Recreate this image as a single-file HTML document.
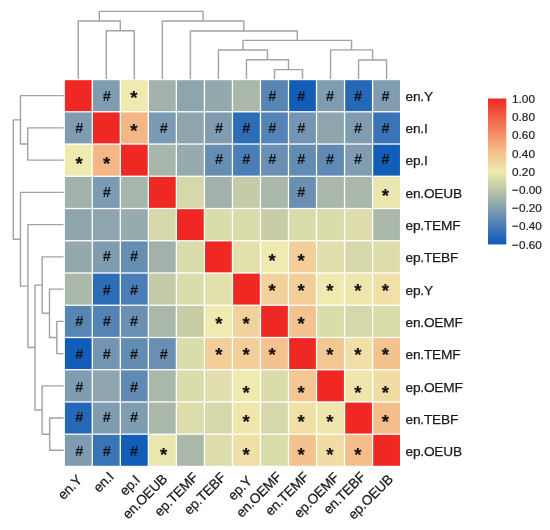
<!DOCTYPE html><html><head><meta charset="utf-8"><style>html,body{margin:0;padding:0;background:#fff;width:550px;height:530px;overflow:hidden}svg{display:block;filter:blur(0.3px)}text{font-family:"Liberation Sans",Arial,sans-serif}</style></head><body>
<svg width="550" height="530" viewBox="0 0 550 530">
<rect x="0" y="0" width="550" height="530" fill="#fff"/>
<g>
<rect x="64.90" y="80.20" width="26.73" height="30.94" fill="#f02824"/>
<rect x="92.93" y="80.20" width="26.73" height="30.94" fill="#7f9cb1"/>
<rect x="120.96" y="80.20" width="26.73" height="30.94" fill="#eeeab0"/>
<rect x="148.99" y="80.20" width="26.73" height="30.94" fill="#a2b2ab"/>
<rect x="177.02" y="80.20" width="26.73" height="30.94" fill="#8ea5ae"/>
<rect x="205.05" y="80.20" width="26.73" height="30.94" fill="#93a9ae"/>
<rect x="233.08" y="80.20" width="26.73" height="30.94" fill="#aab8aa"/>
<rect x="261.11" y="80.20" width="26.73" height="30.94" fill="#5785b4"/>
<rect x="289.14" y="80.20" width="26.73" height="30.94" fill="#125db8"/>
<rect x="317.17" y="80.20" width="26.73" height="30.94" fill="#7f9cb1"/>
<rect x="345.20" y="80.20" width="26.73" height="30.94" fill="#2468b7"/>
<rect x="373.23" y="80.20" width="26.73" height="30.94" fill="#7f9cb1"/>
<rect x="64.90" y="112.44" width="26.73" height="30.94" fill="#7f9cb1"/>
<rect x="92.93" y="112.44" width="26.73" height="30.94" fill="#f02824"/>
<rect x="120.96" y="112.44" width="26.73" height="30.94" fill="#f4b684"/>
<rect x="148.99" y="112.44" width="26.73" height="30.94" fill="#7c9ab1"/>
<rect x="177.02" y="112.44" width="26.73" height="30.94" fill="#8ea5ae"/>
<rect x="205.05" y="112.44" width="26.73" height="30.94" fill="#7f9cb1"/>
<rect x="233.08" y="112.44" width="26.73" height="30.94" fill="#2d6db7"/>
<rect x="261.11" y="112.44" width="26.73" height="30.94" fill="#5483b5"/>
<rect x="289.14" y="112.44" width="26.73" height="30.94" fill="#7394b2"/>
<rect x="317.17" y="112.44" width="26.73" height="30.94" fill="#8ea5ae"/>
<rect x="345.20" y="112.44" width="26.73" height="30.94" fill="#7f9cb1"/>
<rect x="373.23" y="112.44" width="26.73" height="30.94" fill="#3974b6"/>
<rect x="64.90" y="144.68" width="26.73" height="30.94" fill="#eeeab0"/>
<rect x="92.93" y="144.68" width="26.73" height="30.94" fill="#f4b684"/>
<rect x="120.96" y="144.68" width="26.73" height="30.94" fill="#f02824"/>
<rect x="148.99" y="144.68" width="26.73" height="30.94" fill="#a7b6aa"/>
<rect x="177.02" y="144.68" width="26.73" height="30.94" fill="#96abad"/>
<rect x="205.05" y="144.68" width="26.73" height="30.94" fill="#668eb3"/>
<rect x="233.08" y="144.68" width="26.73" height="30.94" fill="#4b7eb6"/>
<rect x="261.11" y="144.68" width="26.73" height="30.94" fill="#6a8fb3"/>
<rect x="289.14" y="144.68" width="26.73" height="30.94" fill="#638cb3"/>
<rect x="317.17" y="144.68" width="26.73" height="30.94" fill="#608ab4"/>
<rect x="345.20" y="144.68" width="26.73" height="30.94" fill="#7f9cb1"/>
<rect x="373.23" y="144.68" width="26.73" height="30.94" fill="#125db8"/>
<rect x="64.90" y="176.92" width="26.73" height="30.94" fill="#a2b2ab"/>
<rect x="92.93" y="176.92" width="26.73" height="30.94" fill="#7c9ab1"/>
<rect x="120.96" y="176.92" width="26.73" height="30.94" fill="#a7b6aa"/>
<rect x="148.99" y="176.92" width="26.73" height="30.94" fill="#f02824"/>
<rect x="177.02" y="176.92" width="26.73" height="30.94" fill="#d6d8ab"/>
<rect x="205.05" y="176.92" width="26.73" height="30.94" fill="#a2b2ab"/>
<rect x="233.08" y="176.92" width="26.73" height="30.94" fill="#c5cba8"/>
<rect x="261.11" y="176.92" width="26.73" height="30.94" fill="#aab8aa"/>
<rect x="289.14" y="176.92" width="26.73" height="30.94" fill="#6a8fb3"/>
<rect x="317.17" y="176.92" width="26.73" height="30.94" fill="#aab8aa"/>
<rect x="345.20" y="176.92" width="26.73" height="30.94" fill="#aab8aa"/>
<rect x="373.23" y="176.92" width="26.73" height="30.94" fill="#e9e6af"/>
<rect x="64.90" y="209.16" width="26.73" height="30.94" fill="#8ea5ae"/>
<rect x="92.93" y="209.16" width="26.73" height="30.94" fill="#8ea5ae"/>
<rect x="120.96" y="209.16" width="26.73" height="30.94" fill="#96abad"/>
<rect x="148.99" y="209.16" width="26.73" height="30.94" fill="#d6d8ab"/>
<rect x="177.02" y="209.16" width="26.73" height="30.94" fill="#f02824"/>
<rect x="205.05" y="209.16" width="26.73" height="30.94" fill="#dbdcac"/>
<rect x="233.08" y="209.16" width="26.73" height="30.94" fill="#dbdcac"/>
<rect x="261.11" y="209.16" width="26.73" height="30.94" fill="#c8cda8"/>
<rect x="289.14" y="209.16" width="26.73" height="30.94" fill="#dbdcac"/>
<rect x="317.17" y="209.16" width="26.73" height="30.94" fill="#dbdcac"/>
<rect x="345.20" y="209.16" width="26.73" height="30.94" fill="#ddddac"/>
<rect x="373.23" y="209.16" width="26.73" height="30.94" fill="#aab8aa"/>
<rect x="64.90" y="241.40" width="26.73" height="30.94" fill="#93a9ae"/>
<rect x="92.93" y="241.40" width="26.73" height="30.94" fill="#7f9cb1"/>
<rect x="120.96" y="241.40" width="26.73" height="30.94" fill="#668eb3"/>
<rect x="148.99" y="241.40" width="26.73" height="30.94" fill="#a2b2ab"/>
<rect x="177.02" y="241.40" width="26.73" height="30.94" fill="#dbdcac"/>
<rect x="205.05" y="241.40" width="26.73" height="30.94" fill="#f02824"/>
<rect x="233.08" y="241.40" width="26.73" height="30.94" fill="#e2e1ae"/>
<rect x="261.11" y="241.40" width="26.73" height="30.94" fill="#eeeab0"/>
<rect x="289.14" y="241.40" width="26.73" height="30.94" fill="#f3ce99"/>
<rect x="317.17" y="241.40" width="26.73" height="30.94" fill="#e0dfad"/>
<rect x="345.20" y="241.40" width="26.73" height="30.94" fill="#d6d8ab"/>
<rect x="373.23" y="241.40" width="26.73" height="30.94" fill="#ddddac"/>
<rect x="64.90" y="273.64" width="26.73" height="30.94" fill="#aab8aa"/>
<rect x="92.93" y="273.64" width="26.73" height="30.94" fill="#2d6db7"/>
<rect x="120.96" y="273.64" width="26.73" height="30.94" fill="#4b7eb6"/>
<rect x="148.99" y="273.64" width="26.73" height="30.94" fill="#c5cba8"/>
<rect x="177.02" y="273.64" width="26.73" height="30.94" fill="#dbdcac"/>
<rect x="205.05" y="273.64" width="26.73" height="30.94" fill="#e2e1ae"/>
<rect x="233.08" y="273.64" width="26.73" height="30.94" fill="#f02824"/>
<rect x="261.11" y="273.64" width="26.73" height="30.94" fill="#f2d29c"/>
<rect x="289.14" y="273.64" width="26.73" height="30.94" fill="#f3ce99"/>
<rect x="317.17" y="273.64" width="26.73" height="30.94" fill="#eeeab0"/>
<rect x="345.20" y="273.64" width="26.73" height="30.94" fill="#efe6ad"/>
<rect x="373.23" y="273.64" width="26.73" height="30.94" fill="#f0e0a8"/>
<rect x="64.90" y="305.88" width="26.73" height="30.94" fill="#5785b4"/>
<rect x="92.93" y="305.88" width="26.73" height="30.94" fill="#5483b5"/>
<rect x="120.96" y="305.88" width="26.73" height="30.94" fill="#6a8fb3"/>
<rect x="148.99" y="305.88" width="26.73" height="30.94" fill="#aab8aa"/>
<rect x="177.02" y="305.88" width="26.73" height="30.94" fill="#c8cda8"/>
<rect x="205.05" y="305.88" width="26.73" height="30.94" fill="#eeeab0"/>
<rect x="233.08" y="305.88" width="26.73" height="30.94" fill="#f2d29c"/>
<rect x="261.11" y="305.88" width="26.73" height="30.94" fill="#f02824"/>
<rect x="289.14" y="305.88" width="26.73" height="30.94" fill="#f4c28e"/>
<rect x="317.17" y="305.88" width="26.73" height="30.94" fill="#dbdcac"/>
<rect x="345.20" y="305.88" width="26.73" height="30.94" fill="#d6d8ab"/>
<rect x="373.23" y="305.88" width="26.73" height="30.94" fill="#dbdcac"/>
<rect x="64.90" y="338.12" width="26.73" height="30.94" fill="#125db8"/>
<rect x="92.93" y="338.12" width="26.73" height="30.94" fill="#7394b2"/>
<rect x="120.96" y="338.12" width="26.73" height="30.94" fill="#638cb3"/>
<rect x="148.99" y="338.12" width="26.73" height="30.94" fill="#6a8fb3"/>
<rect x="177.02" y="338.12" width="26.73" height="30.94" fill="#dbdcac"/>
<rect x="205.05" y="338.12" width="26.73" height="30.94" fill="#f3ce99"/>
<rect x="233.08" y="338.12" width="26.73" height="30.94" fill="#f3ce99"/>
<rect x="261.11" y="338.12" width="26.73" height="30.94" fill="#f4c28e"/>
<rect x="289.14" y="338.12" width="26.73" height="30.94" fill="#f02824"/>
<rect x="317.17" y="338.12" width="26.73" height="30.94" fill="#f4c692"/>
<rect x="345.20" y="338.12" width="26.73" height="30.94" fill="#f0e0a8"/>
<rect x="373.23" y="338.12" width="26.73" height="30.94" fill="#f4c28e"/>
<rect x="64.90" y="370.36" width="26.73" height="30.94" fill="#7f9cb1"/>
<rect x="92.93" y="370.36" width="26.73" height="30.94" fill="#8ea5ae"/>
<rect x="120.96" y="370.36" width="26.73" height="30.94" fill="#608ab4"/>
<rect x="148.99" y="370.36" width="26.73" height="30.94" fill="#aab8aa"/>
<rect x="177.02" y="370.36" width="26.73" height="30.94" fill="#dbdcac"/>
<rect x="205.05" y="370.36" width="26.73" height="30.94" fill="#e0dfad"/>
<rect x="233.08" y="370.36" width="26.73" height="30.94" fill="#eeeab0"/>
<rect x="261.11" y="370.36" width="26.73" height="30.94" fill="#dbdcac"/>
<rect x="289.14" y="370.36" width="26.73" height="30.94" fill="#f4c692"/>
<rect x="317.17" y="370.36" width="26.73" height="30.94" fill="#f02824"/>
<rect x="345.20" y="370.36" width="26.73" height="30.94" fill="#efe6ad"/>
<rect x="373.23" y="370.36" width="26.73" height="30.94" fill="#f1dca5"/>
<rect x="64.90" y="402.60" width="26.73" height="30.94" fill="#2468b7"/>
<rect x="92.93" y="402.60" width="26.73" height="30.94" fill="#7f9cb1"/>
<rect x="120.96" y="402.60" width="26.73" height="30.94" fill="#7f9cb1"/>
<rect x="148.99" y="402.60" width="26.73" height="30.94" fill="#aab8aa"/>
<rect x="177.02" y="402.60" width="26.73" height="30.94" fill="#ddddac"/>
<rect x="205.05" y="402.60" width="26.73" height="30.94" fill="#d6d8ab"/>
<rect x="233.08" y="402.60" width="26.73" height="30.94" fill="#efe6ad"/>
<rect x="261.11" y="402.60" width="26.73" height="30.94" fill="#d6d8ab"/>
<rect x="289.14" y="402.60" width="26.73" height="30.94" fill="#f0e0a8"/>
<rect x="317.17" y="402.60" width="26.73" height="30.94" fill="#efe6ad"/>
<rect x="345.20" y="402.60" width="26.73" height="30.94" fill="#f02824"/>
<rect x="373.23" y="402.60" width="26.73" height="30.94" fill="#f4bd8a"/>
<rect x="64.90" y="434.84" width="26.73" height="30.94" fill="#7f9cb1"/>
<rect x="92.93" y="434.84" width="26.73" height="30.94" fill="#3974b6"/>
<rect x="120.96" y="434.84" width="26.73" height="30.94" fill="#125db8"/>
<rect x="148.99" y="434.84" width="26.73" height="30.94" fill="#e9e6af"/>
<rect x="177.02" y="434.84" width="26.73" height="30.94" fill="#aab8aa"/>
<rect x="205.05" y="434.84" width="26.73" height="30.94" fill="#ddddac"/>
<rect x="233.08" y="434.84" width="26.73" height="30.94" fill="#f0e0a8"/>
<rect x="261.11" y="434.84" width="26.73" height="30.94" fill="#dbdcac"/>
<rect x="289.14" y="434.84" width="26.73" height="30.94" fill="#f4c28e"/>
<rect x="317.17" y="434.84" width="26.73" height="30.94" fill="#f1dca5"/>
<rect x="345.20" y="434.84" width="26.73" height="30.94" fill="#f4bd8a"/>
<rect x="373.23" y="434.84" width="26.73" height="30.94" fill="#f02824"/>
</g>
<g fill="#111" text-anchor="middle" font-weight="bold">
<text x="106.70" y="101.07" font-size="14.5">#</text>
<text x="133.93" y="103.57" font-size="18.5" stroke="#111" stroke-width="0.15" stroke-linejoin="round">*</text>
<text x="272.18" y="101.07" font-size="14.5">#</text>
<text x="301.20" y="101.07" font-size="14.5">#</text>
<text x="330.04" y="101.07" font-size="14.5">#</text>
<text x="358.06" y="101.07" font-size="14.5">#</text>
<text x="385.50" y="101.07" font-size="14.5">#</text>
<text x="79.27" y="133.41" font-size="14.5">#</text>
<text x="133.93" y="136.71" font-size="18.5" stroke="#111" stroke-width="0.15" stroke-linejoin="round">*</text>
<text x="163.76" y="133.41" font-size="14.5">#</text>
<text x="219.12" y="133.41" font-size="14.5">#</text>
<text x="246.34" y="133.41" font-size="14.5">#</text>
<text x="272.18" y="133.41" font-size="14.5">#</text>
<text x="301.20" y="133.41" font-size="14.5">#</text>
<text x="358.06" y="133.41" font-size="14.5">#</text>
<text x="385.50" y="133.41" font-size="14.5">#</text>
<text x="79.06" y="170.45" font-size="18.5" stroke="#111" stroke-width="0.15" stroke-linejoin="round">*</text>
<text x="106.50" y="170.45" font-size="18.5" stroke="#111" stroke-width="0.15" stroke-linejoin="round">*</text>
<text x="219.12" y="164.35" font-size="14.5">#</text>
<text x="246.34" y="164.35" font-size="14.5">#</text>
<text x="272.18" y="164.35" font-size="14.5">#</text>
<text x="301.20" y="164.35" font-size="14.5">#</text>
<text x="330.04" y="164.35" font-size="14.5">#</text>
<text x="358.06" y="164.35" font-size="14.5">#</text>
<text x="385.50" y="164.35" font-size="14.5">#</text>
<text x="106.70" y="197.19" font-size="14.5">#</text>
<text x="301.20" y="197.19" font-size="14.5">#</text>
<text x="385.30" y="201.99" font-size="18.5" stroke="#111" stroke-width="0.15" stroke-linejoin="round">*</text>
<text x="106.70" y="261.17" font-size="14.5">#</text>
<text x="134.12" y="261.17" font-size="14.5">#</text>
<text x="271.98" y="266.57" font-size="18.5" stroke="#111" stroke-width="0.15" stroke-linejoin="round">*</text>
<text x="301.00" y="266.57" font-size="18.5" stroke="#111" stroke-width="0.15" stroke-linejoin="round">*</text>
<text x="106.70" y="295.21" font-size="14.5">#</text>
<text x="134.12" y="295.21" font-size="14.5">#</text>
<text x="271.98" y="297.31" font-size="18.5" stroke="#111" stroke-width="0.15" stroke-linejoin="round">*</text>
<text x="301.00" y="297.31" font-size="18.5" stroke="#111" stroke-width="0.15" stroke-linejoin="round">*</text>
<text x="329.84" y="297.31" font-size="18.5" stroke="#111" stroke-width="0.15" stroke-linejoin="round">*</text>
<text x="357.87" y="297.31" font-size="18.5" stroke="#111" stroke-width="0.15" stroke-linejoin="round">*</text>
<text x="385.30" y="297.31" font-size="18.5" stroke="#111" stroke-width="0.15" stroke-linejoin="round">*</text>
<text x="79.27" y="326.15" font-size="14.5">#</text>
<text x="106.70" y="326.15" font-size="14.5">#</text>
<text x="134.12" y="326.15" font-size="14.5">#</text>
<text x="218.92" y="330.15" font-size="18.5" stroke="#111" stroke-width="0.15" stroke-linejoin="round">*</text>
<text x="246.15" y="330.15" font-size="18.5" stroke="#111" stroke-width="0.15" stroke-linejoin="round">*</text>
<text x="301.00" y="330.15" font-size="18.5" stroke="#111" stroke-width="0.15" stroke-linejoin="round">*</text>
<text x="79.27" y="358.89" font-size="14.5">#</text>
<text x="106.70" y="358.89" font-size="14.5">#</text>
<text x="134.12" y="358.89" font-size="14.5">#</text>
<text x="163.76" y="358.89" font-size="14.5">#</text>
<text x="218.92" y="361.49" font-size="18.5" stroke="#111" stroke-width="0.15" stroke-linejoin="round">*</text>
<text x="246.15" y="361.49" font-size="18.5" stroke="#111" stroke-width="0.15" stroke-linejoin="round">*</text>
<text x="271.98" y="361.49" font-size="18.5" stroke="#111" stroke-width="0.15" stroke-linejoin="round">*</text>
<text x="329.84" y="361.49" font-size="18.5" stroke="#111" stroke-width="0.15" stroke-linejoin="round">*</text>
<text x="357.87" y="361.49" font-size="18.5" stroke="#111" stroke-width="0.15" stroke-linejoin="round">*</text>
<text x="385.30" y="361.49" font-size="18.5" stroke="#111" stroke-width="0.15" stroke-linejoin="round">*</text>
<text x="79.27" y="392.03" font-size="14.5">#</text>
<text x="134.12" y="392.03" font-size="14.5">#</text>
<text x="246.15" y="398.53" font-size="18.5" stroke="#111" stroke-width="0.15" stroke-linejoin="round">*</text>
<text x="301.00" y="398.53" font-size="18.5" stroke="#111" stroke-width="0.15" stroke-linejoin="round">*</text>
<text x="357.87" y="398.53" font-size="18.5" stroke="#111" stroke-width="0.15" stroke-linejoin="round">*</text>
<text x="385.30" y="398.53" font-size="18.5" stroke="#111" stroke-width="0.15" stroke-linejoin="round">*</text>
<text x="79.27" y="422.27" font-size="14.5">#</text>
<text x="106.70" y="422.27" font-size="14.5">#</text>
<text x="134.12" y="422.27" font-size="14.5">#</text>
<text x="246.15" y="428.17" font-size="18.5" stroke="#111" stroke-width="0.15" stroke-linejoin="round">*</text>
<text x="301.00" y="428.17" font-size="18.5" stroke="#111" stroke-width="0.15" stroke-linejoin="round">*</text>
<text x="329.84" y="428.17" font-size="18.5" stroke="#111" stroke-width="0.15" stroke-linejoin="round">*</text>
<text x="385.30" y="428.17" font-size="18.5" stroke="#111" stroke-width="0.15" stroke-linejoin="round">*</text>
<text x="79.27" y="456.41" font-size="14.5">#</text>
<text x="106.70" y="456.41" font-size="14.5">#</text>
<text x="134.12" y="456.41" font-size="14.5">#</text>
<text x="163.56" y="461.01" font-size="18.5" stroke="#111" stroke-width="0.15" stroke-linejoin="round">*</text>
<text x="246.15" y="461.01" font-size="18.5" stroke="#111" stroke-width="0.15" stroke-linejoin="round">*</text>
<text x="301.00" y="461.01" font-size="18.5" stroke="#111" stroke-width="0.15" stroke-linejoin="round">*</text>
<text x="329.84" y="461.01" font-size="18.5" stroke="#111" stroke-width="0.15" stroke-linejoin="round">*</text>
<text x="357.87" y="461.01" font-size="18.5" stroke="#111" stroke-width="0.15" stroke-linejoin="round">*</text>
</g>
<g fill="none" stroke="#a2a2a2" stroke-width="1.4" stroke-linecap="butt" stroke-linejoin="round">
<path d="M106.30,79.00 L106.30,30.70 L134.32,30.70 L134.32,79.00"/>
<path d="M78.27,79.00 L78.27,21.00 L120.31,21.00 L120.31,30.70"/>
<path d="M274.48,79.00 L274.48,69.60 L302.50,69.60 L302.50,79.00"/>
<path d="M246.44,79.00 L246.44,59.80 L288.49,59.80 L288.49,69.60"/>
<path d="M218.42,79.00 L218.42,50.00 L267.47,50.00 L267.47,59.80"/>
<path d="M358.56,79.00 L358.56,60.00 L386.60,60.00 L386.60,79.00"/>
<path d="M330.54,79.00 L330.54,49.90 L372.58,49.90 L372.58,60.00"/>
<path d="M242.94,50.00 L242.94,40.40 L351.56,40.40 L351.56,49.90"/>
<path d="M190.38,79.00 L190.38,31.00 L297.25,31.00 L297.25,40.40"/>
<path d="M162.36,79.00 L162.36,21.00 L243.82,21.00 L243.82,31.00"/>
<path d="M99.29,21.00 L99.29,11.36 L203.09,11.36 L203.09,21.00"/>
<path d="M63.60,127.91 L27.71,127.91 L27.71,160.15 L63.60,160.15"/>
<path d="M63.60,95.67 L20.45,95.67 L20.45,144.03 L27.71,144.03"/>
<path d="M63.60,321.35 L56.81,321.35 L56.81,353.59 L63.60,353.59"/>
<path d="M63.60,289.11 L49.48,289.11 L49.48,337.47 L56.81,337.47"/>
<path d="M63.60,256.87 L42.15,256.87 L42.15,313.29 L49.48,313.29"/>
<path d="M63.60,418.07 L49.63,418.07 L49.63,450.31 L63.60,450.31"/>
<path d="M63.60,385.83 L42.07,385.83 L42.07,434.19 L49.63,434.19"/>
<path d="M42.15,285.08 L34.97,285.08 L34.97,410.01 L42.07,410.01"/>
<path d="M63.60,224.63 L27.93,224.63 L27.93,347.55 L34.97,347.55"/>
<path d="M63.60,192.39 L20.45,192.39 L20.45,286.09 L27.93,286.09"/>
<path d="M20.45,119.85 L13.24,119.85 L13.24,239.24 L20.45,239.24"/>
</g>
<g fill="#1a1a1a" font-size="13.7" letter-spacing="-0.2" stroke="#1a1a1a" stroke-width="0.25">
<text x="405.5" y="100.50">en.Y</text>
<text x="405.5" y="132.85">en.I</text>
<text x="405.5" y="165.20">ep.I</text>
<text x="405.5" y="197.55">en.OEUB</text>
<text x="405.5" y="229.90">ep.TEMF</text>
<text x="405.5" y="262.25">ep.TEBF</text>
<text x="405.5" y="294.60">ep.Y</text>
<text x="405.5" y="326.95">en.OEMF</text>
<text x="405.5" y="359.30">en.TEMF</text>
<text x="405.5" y="391.65">ep.OEMF</text>
<text x="405.5" y="424.00">en.TEBF</text>
<text x="405.5" y="456.35">ep.OEUB</text>
</g>
<g fill="#1a1a1a" font-size="13.7" letter-spacing="-0.2" text-anchor="end" stroke="#1a1a1a" stroke-width="0.25">
<text transform="translate(82.77,481.03) rotate(-45)">en.Y</text>
<text transform="translate(114.50,477.63) rotate(-45)">en.I</text>
<text transform="translate(140.72,481.03) rotate(-45)">ep.I</text>
<text transform="translate(168.06,479.93) rotate(-45)">en.OEUB</text>
<text transform="translate(198.78,478.33) rotate(-45)">ep.TEMF</text>
<text transform="translate(226.62,478.33) rotate(-45)">ep.TEBF</text>
<text transform="translate(252.84,481.93) rotate(-45)">ep.Y</text>
<text transform="translate(282.18,477.73) rotate(-45)">en.OEMF</text>
<text transform="translate(309.61,477.73) rotate(-45)">en.TEMF</text>
<text transform="translate(339.84,478.33) rotate(-45)">ep.OEMF</text>
<text transform="translate(366.17,477.73) rotate(-45)">en.TEBF</text>
<text transform="translate(393.70,480.23) rotate(-45)">ep.OEUB</text>
</g>
<defs><linearGradient id="lg" x1="0" y1="1" x2="0" y2="0">
<stop offset="0.0000" stop-color="#0c5ab8"/>
<stop offset="0.0312" stop-color="#1b63b8"/>
<stop offset="0.0625" stop-color="#2a6bb7"/>
<stop offset="0.0938" stop-color="#3974b6"/>
<stop offset="0.1250" stop-color="#487cb6"/>
<stop offset="0.1562" stop-color="#5785b4"/>
<stop offset="0.1875" stop-color="#678eb3"/>
<stop offset="0.2188" stop-color="#7696b2"/>
<stop offset="0.2500" stop-color="#859fb0"/>
<stop offset="0.2812" stop-color="#93a9ae"/>
<stop offset="0.3125" stop-color="#a2b2ab"/>
<stop offset="0.3438" stop-color="#b0bca8"/>
<stop offset="0.3750" stop-color="#bec6a6"/>
<stop offset="0.4062" stop-color="#cacfa8"/>
<stop offset="0.4375" stop-color="#d6d8ab"/>
<stop offset="0.4688" stop-color="#e2e1ae"/>
<stop offset="0.5000" stop-color="#eeeab0"/>
<stop offset="0.5312" stop-color="#f0e0a8"/>
<stop offset="0.5625" stop-color="#f2d6a0"/>
<stop offset="0.5938" stop-color="#f3cc97"/>
<stop offset="0.6250" stop-color="#f4c28e"/>
<stop offset="0.6562" stop-color="#f4b684"/>
<stop offset="0.6875" stop-color="#f4a97a"/>
<stop offset="0.7188" stop-color="#f49d70"/>
<stop offset="0.7500" stop-color="#f49166"/>
<stop offset="0.7812" stop-color="#f4845e"/>
<stop offset="0.8125" stop-color="#f37755"/>
<stop offset="0.8438" stop-color="#f26b4c"/>
<stop offset="0.8750" stop-color="#f25e44"/>
<stop offset="0.9062" stop-color="#f2503c"/>
<stop offset="0.9375" stop-color="#f14334"/>
<stop offset="0.9688" stop-color="#f0352c"/>
<stop offset="1.0000" stop-color="#f02824"/>
</linearGradient></defs>
<rect x="488" y="98.5" width="18.30000000000001" height="145.9" fill="url(#lg)"/>
<g fill="#222" font-size="11.8" stroke="#222" stroke-width="0.2">
<text x="512" y="102.80">1.00</text>
<text x="512" y="121.04">0.80</text>
<text x="512" y="139.28">0.60</text>
<text x="512" y="157.52">0.40</text>
<text x="512" y="175.76">0.20</text>
<text x="512" y="194.00">−0.00</text>
<text x="512" y="212.24">−0.20</text>
<text x="512" y="230.48">−0.40</text>
<text x="512" y="248.72">−0.60</text>
</g>
</svg></body></html>
